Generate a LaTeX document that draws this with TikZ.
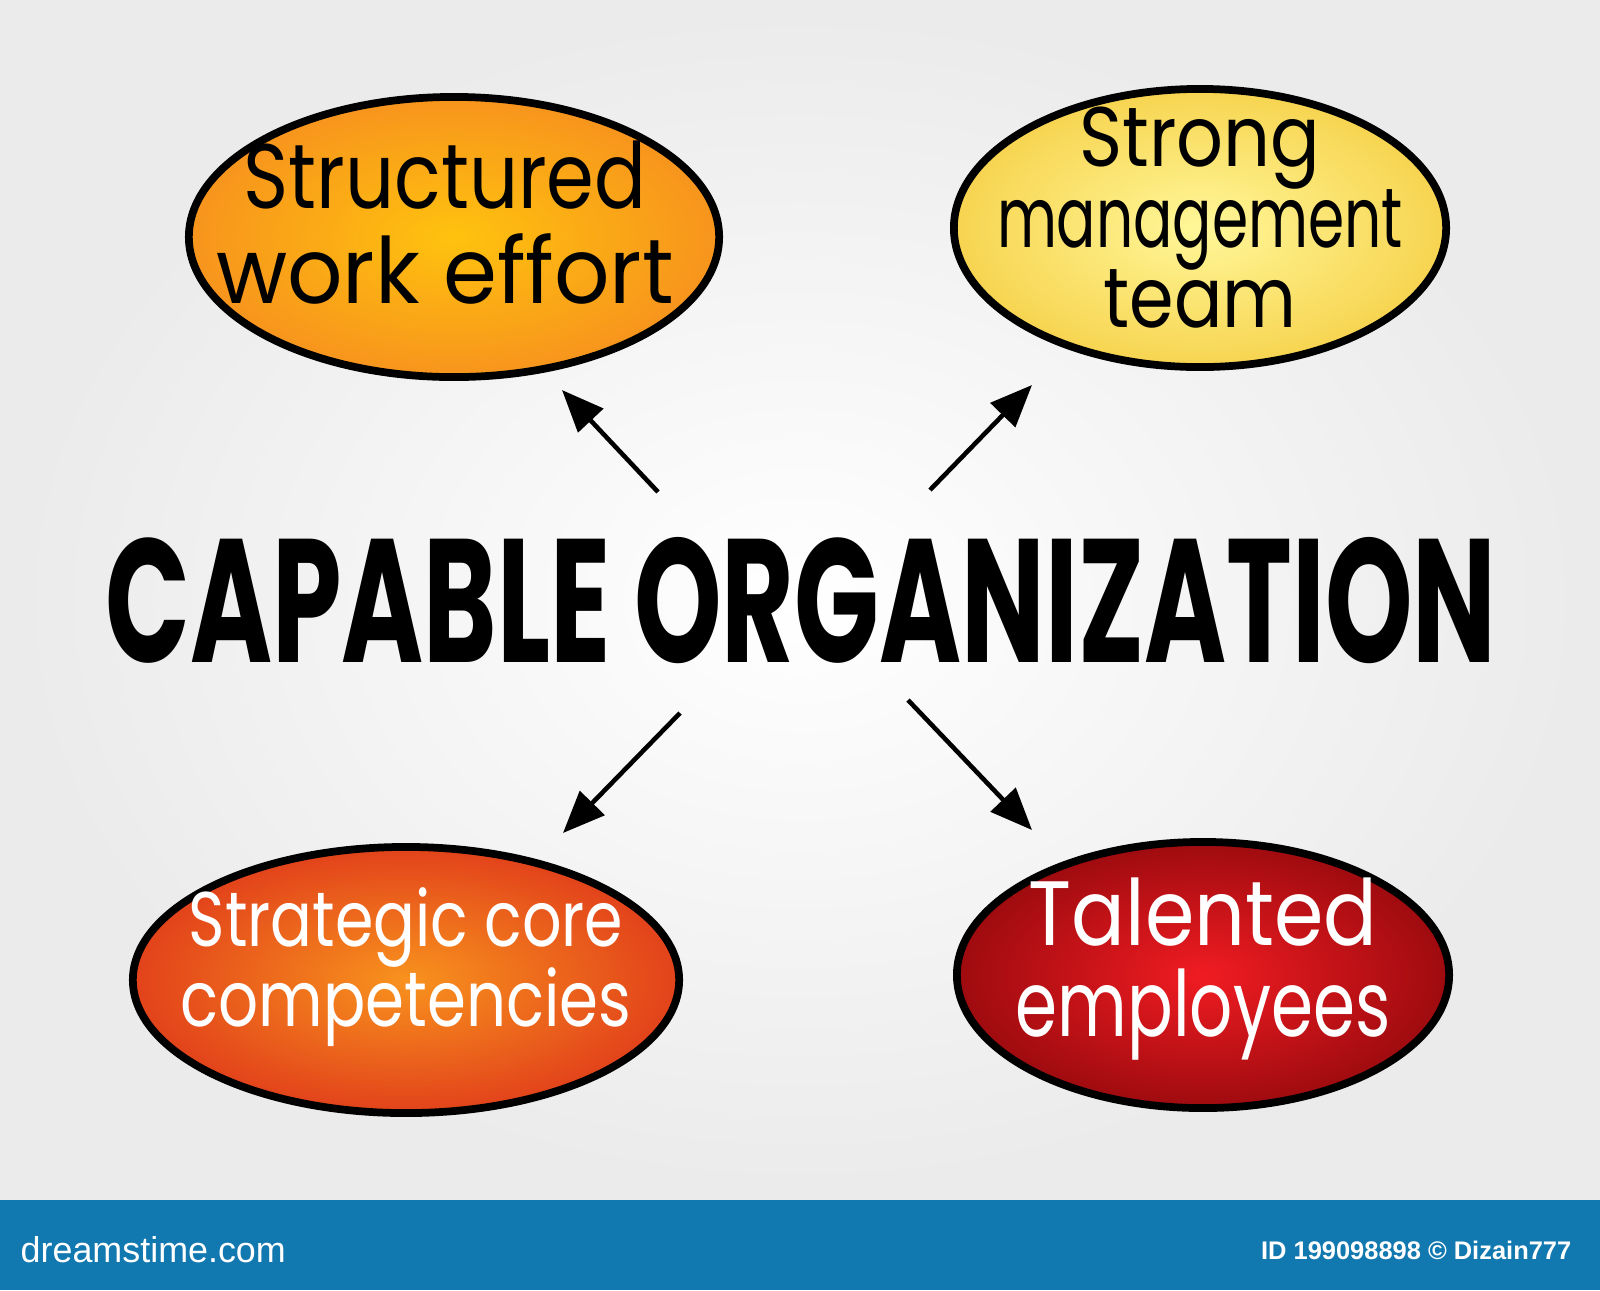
\documentclass[tikz,border=0pt]{standalone}
\usepackage{fontspec}
\setmainfont{Poppins}
\newfontfamily\footfont{Liberation Sans}
\usetikzlibrary{shapes.geometric,arrows.meta,positioning}
\definecolor{orIn}{HTML}{FFC20E}
\definecolor{orOut}{HTML}{F7941D}
\definecolor{yeIn}{HTML}{FFF799}
\definecolor{yeOut}{HTML}{F7D450}
\definecolor{roIn}{HTML}{F8921D}
\definecolor{roOut}{HTML}{E2421B}
\definecolor{reIn}{HTML}{F01C22}
\definecolor{reOut}{HTML}{9E0B0F}
\definecolor{footblue}{HTML}{1278B0}
\tikzstyle{idea} = [draw, ellipse, line width=2.2pt]
\tikzstyle{hand} = [inner sep=0pt]
\tikzstyle{point} = [coordinate]
\tikzstyle{link} = [->, line width=1.3pt]
\newcommand{\hl}[2]{\scalebox{#1}[1]{#2}}
\newcommand{\handlines}[3]{\fontsize{#1}{#2}\selectfont\begin{tabular}{@{}c@{}}#3\end{tabular}}

\begin{document}
\begin{tikzpicture}[x=0.01cm, y=-0.01cm, >={Triangle[length=4.2mm,width=3.4mm]}]

% background and footer
\shade [inner color=white, outer color=black!8] (0,0) rectangle (1600,1200);
\fill [footblue] (0,1200) rectangle (1600,1290);
\useasboundingbox (0,0) rectangle (1600,1290);

\node (org) at (801,601) {\resizebox{13.9cm}{1.25cm}{\bfseries CAPABLE ORGANIZATION}};

% the four ideas
\node [idea, inner color=orIn, outer color=orOut, minimum width=5.3cm, minimum height=2.8cm] (work) at (454,237) {};
\node [idea, inner color=yeIn, outer color=yeOut, minimum width=4.92cm, minimum height=2.78cm] (team) at (1200,228) {};
\node [idea, inner color=roIn, outer color=roOut, minimum width=5.46cm, minimum height=2.66cm] (core) at (406,980) {};
\node [idea, inner color=reIn, outer color=reOut, minimum width=4.92cm, minimum height=2.66cm] (talent) at (1203,975) {};

\node [hand] (workT) at ([shift={(-9,-2)}]work) {\handlines{26}{24}{\hl{0.84}{Structured}\\\hl{0.95}{work effort}}};
\node [hand] (teamT) at (team) {\handlines{24}{20}{\hl{0.87}{Strong}\\\hl{0.69}{management}\\\hl{0.85}{team}}};
\node [hand, white] (coreT) at ([shift={(0,-12)}]core) {\handlines{22}{20}{\hl{0.8}{Strategic core}\\\hl{0.81}{competencies}}};
\node [hand, white] (talentT) at ([shift={(0,-6)}]talent) {\handlines{26}{22}{\hl{0.87}{Talented}\\\hl{0.74}{employees}}};

% arrows
\coordinate (workS) at (658,492);
\coordinate (workE) at (562,390);
\coordinate (teamS) at (930,490);
\coordinate (teamE) at (1032,385);
\coordinate (coreS) at (680,713);
\coordinate (coreE) at (563,833);
\coordinate (talentS) at (908,700);
\coordinate (talentE) at (1032,830);

\draw [link] (workS) -- (workE);
\draw [link] (teamS) -- (teamE);
\draw [link] (coreS) -- (coreE);
\draw [link] (talentS) -- (talentE);

% footer
\node [white, inner sep=0pt, anchor=west] (site) at (20,1250) {\resizebox{2.65cm}{!}{\footfont dreamstime.com}};
\node [white, inner sep=0pt, anchor=east] (id) at (1572,1250) {\resizebox{3.1cm}{!}{\footfont\bfseries ID 199098898 © Dizain777}};

\end{tikzpicture}
\end{document}
